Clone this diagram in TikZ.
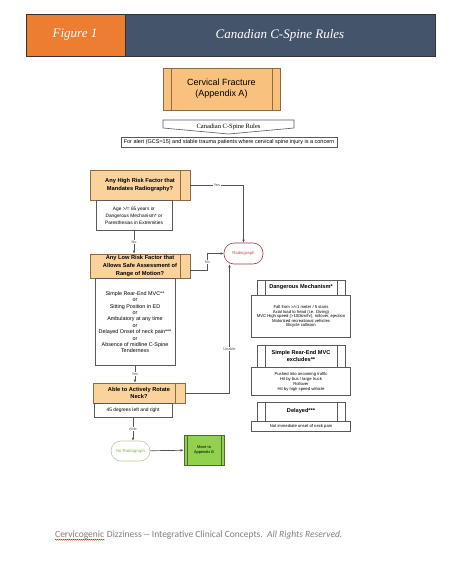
\documentclass[tikz,border=0pt]{standalone}
\usepackage{fontspec}
\setmainfont{Liberation Serif}
\setsansfont{Liberation Sans}
\newfontfamily\footfont{Carlito}
\usepackage{tikz}
\usetikzlibrary{positioning,arrows.meta,decorations.pathmorphing}
\definecolor{barorange}{HTML}{ED7D31}
\definecolor{barblue}{HTML}{44546A}
\definecolor{qfill}{HTML}{FAD29C}
\definecolor{qedge}{HTML}{8F6A45}
\definecolor{fracfill}{HTML}{F8C17E}
\definecolor{boxgray}{HTML}{5A5A5A}
\definecolor{linegray}{HTML}{555555}
\definecolor{appfill}{HTML}{92D050}
\definecolor{appedge}{HTML}{4B6E2C}
\definecolor{noedge}{HTML}{B9CCA0}
\definecolor{notext}{HTML}{8AAE4E}
\definecolor{radedge}{HTML}{9B3A3A}
\definecolor{radtext}{HTML}{C0504D}
\definecolor{foottext}{HTML}{7F7F7F}
\tikzset{
  bar/.style={draw=black!80,line width=0.8pt},
  bartext/.style={text=white,font=\rmfamily\itshape\fontsize{13}{15}\selectfont},
  box/.style={draw=boxgray,line width=0.6pt,inner sep=0pt,align=center},
  rightline/.style={path picture={\draw[draw=#1,line width=0.5pt]
      ([xshift=-10pt]path picture bounding box.north east) --
      ([xshift=-10pt]path picture bounding box.south east);}},
  bothlines/.style 2 args={path picture={\draw[draw=#1,line width=0.5pt]
      ([xshift=#2]path picture bounding box.north west) --
      ([xshift=#2]path picture bounding box.south west)
      ([xshift=-#2]path picture bounding box.north east) --
      ([xshift=-#2]path picture bounding box.south east);}},
  question/.style={box,fill=qfill,draw=qedge,rightline=qedge,
      font=\sffamily\bfseries\fontsize{5.7}{7.6}\selectfont},
  detail/.style={box,fill=white,font=\sffamily\fontsize{5.4}{6.4}\selectfont},
  sidehead/.style={box,fill=white,bothlines={boxgray}{8pt},
      minimum width=88pt,font=\sffamily\bfseries\fontsize{5.6}{7}\selectfont},
  sidelist/.style={box,fill=white,minimum width=99pt,
      font=\sffamily\fontsize{4.2}{4.6}\selectfont},
  terminal/.style={box,rounded corners=10pt,minimum width=39pt,minimum height=20pt,
      font=\sffamily\fontsize{4.3}{5}\selectfont},
  link/.style={draw=linegray,line width=0.7pt,-{Latex[length=3pt,width=2.6pt]}},
  tag/.style={fill=white,inner sep=0.6pt,text=linegray,
      font=\sffamily\fontsize{3.8}{4}\selectfont}
}

\begin{document}
\begin{tikzpicture}[x=1pt,y=-1pt]
  \useasboundingbox[fill=white] (0,0) rectangle (474,565);
  % title bar
  \draw[bar,fill=barorange] (26,14) rectangle (125,56);
  \draw[bar,fill=barblue] (125,14) rectangle (435,56);
  \node[bartext] (fig) at (75,35) {Figure 1};
  \node[bartext] (title) at (280,35) {Canadian C-Spine Rules};

  % entry of the chart
  \node[box,fill=fracfill,draw=qedge,bothlines={qedge}{8pt},minimum width=117pt,
    minimum height=42pt,font=\sffamily\fontsize{9}{11}\selectfont] (frac) at (221.5,89)
    {Cervical Fracture\\(Appendix A)};
  \draw[box] (163,120) -- (294,120) -- (294,128) -- (228.5,134) -- (163,128) -- cycle;
  \node[font=\rmfamily\fontsize{6.5}{7}\selectfont] (rules) at (228.5,126.5) {Canadian C-Spine Rules};
  \node[box,minimum width=216pt,minimum height=10pt,font=\sffamily\fontsize{5.5}{6}\selectfont]
    (pop) at (229,142) {For alert (GCS=15) and stable trauma patients where cervical spine injury is a concern};

  % main column
  \node[question,minimum width=100pt,minimum height=30pt] (high) at (140,185)
    {Any High Risk Factor that\\Mandates Radiography?};
  \node[detail,below=0pt of high,xshift=-6pt,minimum width=76pt,minimum height=30pt,
    font=\sffamily\fontsize{4.8}{7}\selectfont] (highdet)
    {Age >/= 65 years or\\Dangerous Mechanism* or\\Paresthesias in Extremities};
  \node[question,minimum width=100pt,minimum height=24pt] (low) at (140,266)
    {Any Low Risk Factor that\\Allows Safe Assessment of\\Range of Motion?};
  \node[detail,below=0pt of low,xshift=-5pt,minimum width=80pt,minimum height=87pt] (lowdet)
    {Simple Rear-End MVC**\\or\\Sitting Position in ED\\or\\Ambulatory at any time\\or\\
     Delayed Onset of neck pain***\\or\\Absence of midline C-Spine\\Tenderness};
  \node[question,minimum width=92pt,minimum height=20pt] (rot) at (139,393)
    {Able to Actively Rotate\\Neck?};
  \node[detail,below=0pt of rot,xshift=-6pt,minimum width=78pt,minimum height=14pt,
    font=\sffamily\fontsize{4.9}{6}\selectfont] (rotdet)
    {45 degrees left and right};
  \node[terminal,draw=noedge,text=notext] (nor) at (130.5,451) {No Radiograph};
  \node[box,fill=appfill,draw=appedge,bothlines={appedge}{3pt},minimum width=40pt,
    minimum height=30pt,font=\sffamily\fontsize{3.9}{4.7}\selectfont] (appb) at (204,450)
    {Move to\\Appendix B};
  \node[terminal,draw=radedge,text=radtext,minimum height=21pt] (radio) at (243.5,253.5) {Radiograph};

  \draw[link] (high.east) -| node[tag,pos=0.25] {Yes} (radio.north);
  \draw[link] (highdet.south) -- node[tag] {No} (highdet.south |- low.north);
  \draw[link] ([yshift=-4pt]low.east) -- ++(17,0) |- node[tag,pos=0.25] {No} (radio.west);
  \draw[link] (lowdet.south) -- node[tag] {Yes} (lowdet.south |- rot.north);
  \draw[link] (rot.east) -| node[tag,pos=0.67] {Unable} ([xshift=-14pt]radio.south);
  \draw[link] (rotdet.south) -- node[tag] {Able} (rotdet.south |- nor.north);
  \draw[link] (nor) -- (appb);

  % definitions on the right
  \node[sidehead,minimum height=15pt] (dang) at (301,287.5) {Dangerous Mechanism*};
  \node[sidelist,below=0pt of dang,minimum height=42pt] (danglist)
    {Fall from >/=1 meter / 5 stairs\\Axial load to head (i.e. Diving)\\
     MVC High speed (>100km/hr), rollover, ejection\\Motorized recreational vehicles\\Bicycle collision};
  \node[sidehead,minimum height=22pt] (rear) at (301,356) {Simple Rear-End MVC\\excludes**};
  \node[sidelist,below=0pt of rear,minimum height=28pt,
    font=\sffamily\fontsize{4.2}{5}\selectfont] (rearlist)
    {Pushed into oncoming traffic\\Hit by bus / large truck\\Rollover\\Hit by high speed vehicle};
  \node[sidehead,minimum height=19pt] (late) at (301,411.5) {Delayed***};
  \node[sidelist,below=0pt of late,minimum height=10pt] (latelist) {Not immediate onset of neck pain};

  % footer
  \node[anchor=base west,inner sep=0pt,text=foottext,font=\footfont\fontsize{9.5}{11}\selectfont]
    (cerv) at (55,537) {Cervicogenic};
  \node[anchor=base west,inner sep=0pt,text=foottext,font=\footfont\fontsize{9.5}{11}\selectfont]
    (foot) at ([xshift=2.4pt]cerv.base east)
    {Dizziness -- Integrative Clinical Concepts.\ \ \textit{All Rights Reserved.}};
  \draw[red!80!black,line width=0.4pt,decorate,decoration={snake,amplitude=0.5pt,segment length=2pt}]
    ([yshift=-1pt]cerv.south west) -- ([yshift=-1pt]cerv.south east);
\end{tikzpicture}
\end{document}
